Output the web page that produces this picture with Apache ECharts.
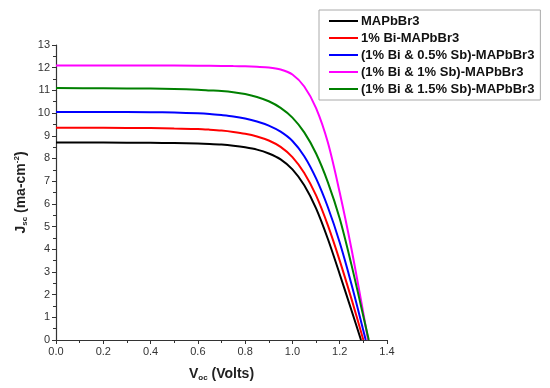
<!DOCTYPE html>
<html>
<head>
<meta charset="utf-8">
<script src="https://cdn.jsdelivr.net/npm/echarts@6/dist/echarts.min.js"></script>
<style>html,body{margin:0;padding:0;background:#fff;}#c{width:550px;height:388px;}</style>
</head>
<body>
<div id="c"></div>
<script>
var seriesNames = ['MAPbBr3', '1% Bi-MAPbBr3', '(1% Bi & 0.5% Sb)-MAPbBr3', '(1% Bi & 1% Sb)-MAPbBr3', '(1% Bi & 1.5% Sb)-MAPbBr3'];
var xTicks = [0.0, 0.2, 0.4, 0.6, 0.8, 1.0, 1.2, 1.4];
var yTicks = [0, 1, 2, 3, 4, 5, 6, 7, 8, 9, 10, 11, 12, 13];

var blackV = [0, 0.2, 0.4, 0.5, 0.6, 0.65, 0.7, 0.75, 0.8, 0.85, 0.9, 0.95, 1.0, 1.05, 1.1, 1.15, 1.2, 1.25, 1.29];
var blackJ = [8.7, 8.7, 8.69, 8.68, 8.66, 8.64, 8.61, 8.56, 8.49, 8.39, 8.22, 7.96, 7.52, 6.82, 5.8, 4.45, 2.9, 1.3, 0];

var redV = [0, 0.2, 0.4, 0.5, 0.6, 0.65, 0.7, 0.75, 0.8, 0.85, 0.9, 0.95, 1.0, 1.05, 1.1, 1.15, 1.2, 1.25, 1.30];
var redJ = [9.35, 9.35, 9.34, 9.32, 9.3, 9.27, 9.23, 9.17, 9.09, 8.97, 8.79, 8.51, 8.06, 7.36, 6.37, 5.05, 3.5, 1.8, 0];

var blueV = [0, 0.2, 0.4, 0.5, 0.6, 0.65, 0.7, 0.75, 0.8, 0.85, 0.9, 0.95, 1.0, 1.05, 1.1, 1.15, 1.2, 1.25, 1.31];
var blueJ = [10.05, 10.05, 10.04, 10.02, 9.99, 9.96, 9.91, 9.85, 9.76, 9.63, 9.45, 9.18, 8.77, 8.1, 7.12, 5.85, 4.3, 2.45, 0];

var magentaV = [0, 0.2, 0.4, 0.6, 0.7, 0.75, 0.8, 0.85, 0.9, 0.95, 1.0, 1.05, 1.1, 1.15, 1.2, 1.25, 1.29, 1.32];
var magentaJ = [12.1, 12.1, 12.1, 12.09, 12.08, 12.07, 12.06, 12.04, 12.01, 11.92, 11.7, 11.17, 10.22, 8.7, 6.5, 4.0, 1.75, 0];

var greenV = [0, 0.2, 0.4, 0.5, 0.6, 0.65, 0.7, 0.75, 0.8, 0.85, 0.9, 0.95, 1.0, 1.05, 1.1, 1.15, 1.2, 1.25, 1.29, 1.323];
var greenJ = [11.1, 11.09, 11.08, 11.06, 11.03, 11.0, 10.97, 10.92, 10.84, 10.71, 10.52, 10.23, 9.8, 9.15, 8.22, 6.95, 5.35, 3.3, 1.5, 0];

var colors = ['#000000', '#ff0000', '#0000ff', '#ff00ff', '#008000'];
var allV = [blackV, redV, blueV, magentaV, greenV];
var allJ = [blackJ, redJ, blueJ, magentaJ, greenJ];

function pairs(v, j) { return v.map(function (x, i) { return [x, j[i]]; }); }

var FONT = '"Liberation Sans", Arial, sans-serif';
var chart = echarts.init(document.getElementById('c'), null, { renderer: 'canvas' });
chart.setOption({
  animation: false,
  backgroundColor: '#ffffff',
  grid: { left: 56, right: 163, top: 45, bottom: 48, containLabel: false },
  legend: {
    orient: 'vertical',
    left: 319, top: 10,
    data: seriesNames,
    icon: 'rect',
    itemWidth: 29, itemHeight: 2,
    itemGap: 3,
    padding: [4, 6, 4, 10],
    borderColor: '#aaaaaa', borderWidth: 1,
    backgroundColor: '#ffffff',
    textStyle: { fontFamily: FONT, fontWeight: 'bold', fontSize: 13, color: '#111', lineHeight: 14, padding: [0, 0, 0, -2] }
  },
  xAxis: {
    type: 'value', min: 0, max: 1.4, interval: 0.2,
    name: 'V{sub|oc} (Volts)', nameLocation: 'middle', nameGap: 26,
    nameMoveOverlap: false,
    nameTextStyle: { fontFamily: FONT, fontWeight: 'bold', fontSize: 14, color: '#222',
      rich: { sub: { fontFamily: FONT, fontWeight: 'bold', fontSize: 8, verticalAlign: 'bottom', padding: [8, 0, 0, 0], color: '#222' } } },
    axisLine: { show: true, onZero: false, lineStyle: { color: '#333', width: 1.2 } },
    axisTick: { show: true, inside: false, length: 4, lineStyle: { color: '#333' } },
    minorTick: { show: true, splitNumber: 2, length: 3, lineStyle: { color: '#333' } },
    axisLabel: { fontFamily: FONT, fontSize: 11, color: '#333', margin: 6,
      formatter: function (v) { return xTicks.indexOf(Math.round(v * 10) / 10) >= 0 ? v.toFixed(1) : ''; } },
    splitLine: { show: false }
  },
  yAxis: {
    type: 'value', min: 0, max: 13, interval: 1,
    name: 'J{sub|sc} (ma-cm{sup|-2})', nameLocation: 'middle', nameGap: 27,
    nameMoveOverlap: false,
    nameTextStyle: { fontFamily: FONT, fontWeight: 'bold', fontSize: 14, color: '#222',
      rich: {
        sub: { fontFamily: FONT, fontWeight: 'bold', fontSize: 8, verticalAlign: 'bottom', padding: [8, 0, 0, 0], color: '#222' },
        sup: { fontFamily: FONT, fontWeight: 'bold', fontSize: 8, verticalAlign: 'top', padding: [0, 0, 8, 0], color: '#222' }
      } },
    axisLine: { show: true, onZero: false, lineStyle: { color: '#333', width: 1.2 } },
    axisTick: { show: true, inside: false, length: 4, lineStyle: { color: '#333' } },
    minorTick: { show: true, splitNumber: 2, length: 3, lineStyle: { color: '#333' } },
    axisLabel: { fontFamily: FONT, fontSize: 11, color: '#333', margin: 6,
      formatter: function (v) { return yTicks.indexOf(v) >= 0 ? String(v) : ''; } },
    splitLine: { show: false }
  },
  series: seriesNames.map(function (n, i) {
    return {
      name: n, type: 'line', data: pairs(allV[i], allJ[i]),
      smooth: 0.3, showSymbol: false, symbol: 'none',
      lineStyle: { color: colors[i], width: 2 },
      itemStyle: { color: colors[i] },
      clip: true
    };
  })
});
</script>
</body>
</html>
